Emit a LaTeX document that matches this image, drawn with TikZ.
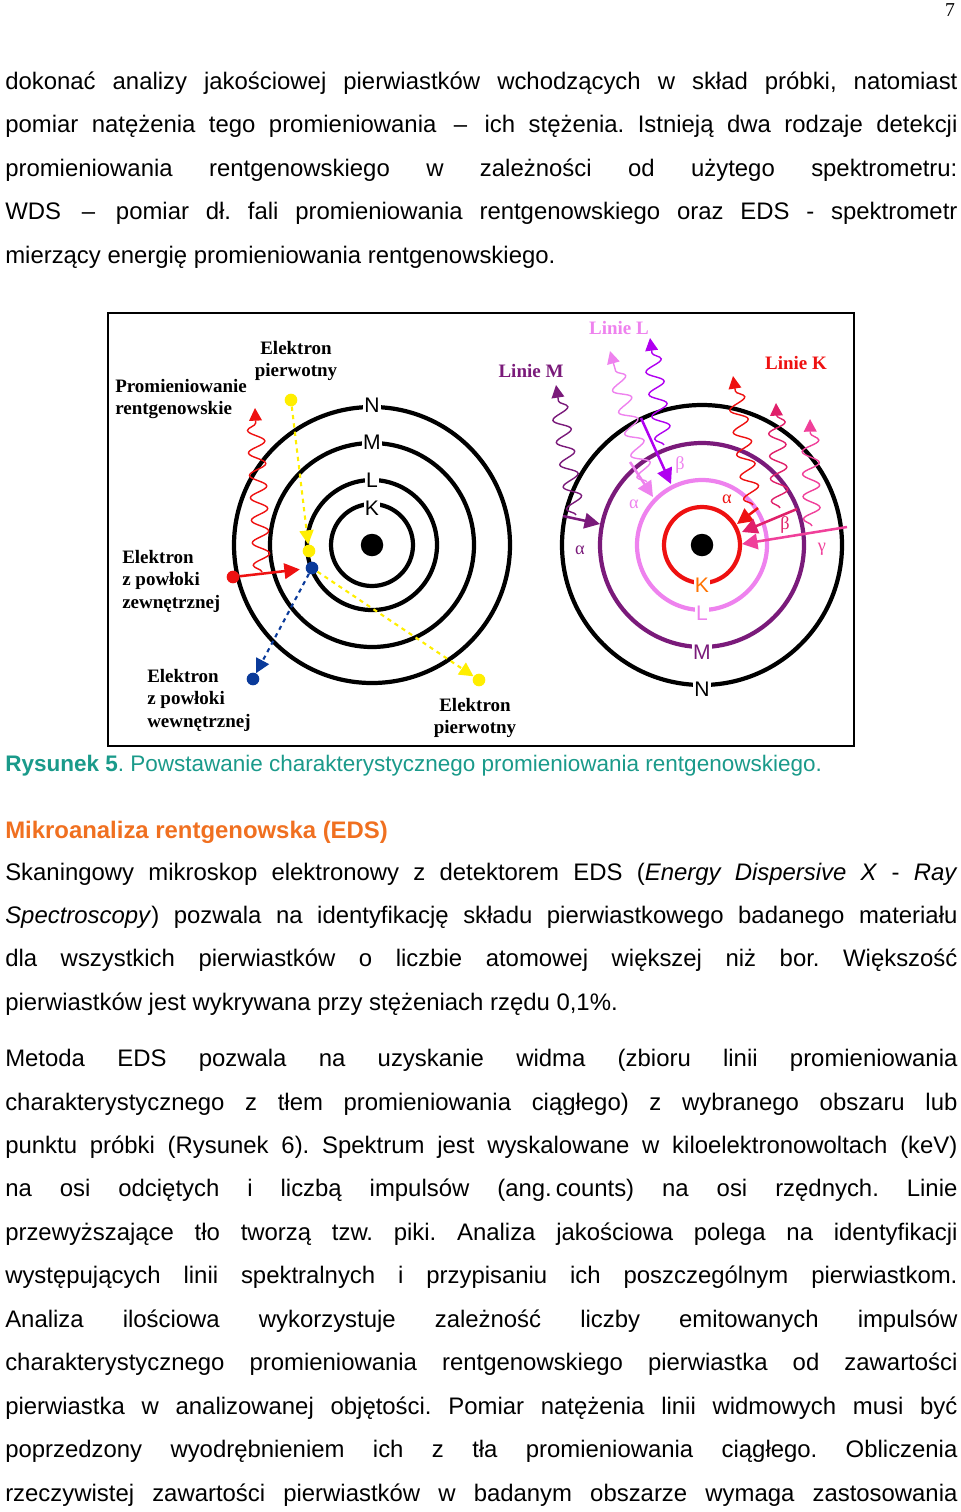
\documentclass[tikz,border=0pt]{standalone}
\usepackage{fontspec}
\setmainfont{Liberation Sans}
\newfontfamily\tnr{Liberation Serif}
\usetikzlibrary{arrows.meta,decorations.pathmorphing}
\definecolor{capteal}{HTML}{1A9A8A}
\definecolor{headorange}{HTML}{F07020}
\definecolor{mpurple}{HTML}{7A1A7A}
\definecolor{lpink}{HTML}{EE82EE}
\definecolor{lviolet}{HTML}{B000F0}
\definecolor{kred}{HTML}{EE1111}
\definecolor{kbeta}{HTML}{E0206A}
\definecolor{kgamma}{HTML}{F0409A}
\definecolor{ylw}{HTML}{FFEE00}
\definecolor{eblue}{HTML}{0A3A9A}
\newlength\linew
\setlength\linew{23.8cm}
\newcommand\jl[1]{\makebox[\linew][s]{#1}}
\frenchspacing
\tikzset{
  txt/.style={anchor=west,inner sep=0pt,font=\fontsize{17}{20}\selectfont},
  lbl/.style={font=\tnr\bfseries\fontsize{13.5}{16}\selectfont,align=left,inner sep=0pt},
  shell/.style={fill=white,inner sep=1pt,font=\fontsize{15}{15}\selectfont},
  greek/.style={font=\tnr\fontsize{13}{13}\selectfont},
  dot/.style={circle,inner sep=0pt,minimum size=9pt},
  wave/.style={decorate,decoration={snake,amplitude=6pt,segment length=16pt,post length=7pt},-{Triangle[length=9pt,width=9pt]}},
  hit/.style={line width=1.8pt,-{Triangle[length=11pt,width=11pt]}},
  ring/.style={line width=3pt}
}
\begin{document}
\begin{tikzpicture}[x=0.025cm,y=-0.025cm]
\useasboundingbox (0,0) rectangle (960,1512);

% Page number
\node[font=\tnr\fontsize{14}{14}\selectfont] (pg) at (950,10) {7};

% Text above the figure
\node[txt] (a1) at (5,83) {\jl{dokonać analizy jakościowej pierwiastków wchodzących w skład próbki, natomiast}};
\node[txt] (a2) at (5,126) {\jl{pomiar natężenia tego promieniowania \,–\, ich stężenia. Istnieją dwa rodzaje detekcji}};
\node[txt] (a3) at (5,170) {\jl{promieniowania rentgenowskiego w zależności od użytego spektrometru:}};
\node[txt] (a4) at (5,213) {\jl{WDS \,–\, pomiar dł. fali promieniowania rentgenowskiego oraz EDS - spektrometr}};
\node[txt] (a5) at (5,257) {mierzący energię promieniowania rentgenowskiego.};

% Frame
\draw[line width=1pt] (108,313) rectangle (854,746);

% Left atom
\coordinate (lc) at (372,545);
\foreach \r in {41,65,102,138}
  \draw[ring] (lc) circle (\r);
\node[dot,fill=black,minimum size=16pt] (lnuc) at (lc) {};
\node[shell] (lN) at (372,405) {N};
\node[shell] (lM) at (372,442) {M};
\node[shell] (lL) at (372,480) {L};
\node[shell] (lK) at (372,508) {K};

% Electrons
\node[dot,fill=ylw] (p1) at (291,400) {};
\node[dot,fill=ylw] (p2) at (309,551) {};
\node[dot,fill=ylw] (p3) at (479,680) {};
\node[dot,fill=eblue] (b1) at (312,568) {};
\node[dot,fill=eblue] (b2) at (253,679) {};
\node[dot,fill=kred] (r1) at (233,577) {};
\coordinate (w1) at (262,572);
\coordinate (w2) at (255,408);
\draw[ylw,line width=1.5pt,dashed,-{Triangle[length=10pt,width=10pt]}] (p1) -- (p2);
\draw[ylw,line width=1.5pt,dashed,-{Triangle[length=10pt,width=10pt]}] (b1) -- (p3);
\draw[eblue,line width=1.5pt,dashed,-{Triangle[length=10pt,width=10pt]}] (b1) -- (b2);
\draw[kred,hit,shorten >=4pt] (r1) -- (b1);
\draw[kred,wave,line width=1pt] (w1) -- (w2);

% Left labels
\node[lbl,align=center] (ep1) at (296,361) {Elektron\\pierwotny};
\node[lbl,anchor=west] (pr) at (115,399) {Promieniowanie\\rentgenowskie};
\node[lbl,anchor=west] (ez) at (122,581) {Elektron\\z powłoki\\zewnętrznej};
\node[lbl,anchor=west] (ew) at (147,700) {Elektron\\z powłoki\\wewnętrznej};
\node[lbl,align=center] (ep2) at (475,718) {Elektron\\pierwotny};

% Right atom
\coordinate (rc) at (702,545);
\draw[ring] (rc) circle (140);
\draw[ring,mpurple] (rc) circle (102);
\draw[ring,lpink] (rc) circle (65);
\draw[ring,kred] (rc) circle (38);
\node[dot,fill=black,minimum size=16pt] (rnuc) at (rc) {};
\node[shell,text=orange!90!red] (rK) at (702,585) {K};
\node[shell,text=lpink] (rL) at (702,613) {L};
\node[shell,text=mpurple] (rM) at (702,652) {M};
\node[shell] (rN) at (702,689) {N};

% Line labels
\node[lbl,text=mpurple] (liM) at (531,371) {Linie M};
\node[lbl,text=lpink] (liL) at (619,328) {Linie L};
\node[lbl,text=kred] (liK) at (796,363) {Linie K};

% M line
\coordinate (m0) at (576,515);
\coordinate (m1) at (556,385);
\coordinate (m2) at (563,516);
\coordinate (m3) at (600,524);
\draw[mpurple,wave,line width=1pt] (m0) -- (m1);
\draw[mpurple,hit] (m2) -- (m3);
\node[greek,text=mpurple] (ma) at (580,550) {α};

% L lines
\coordinate (la0) at (647,482);
\coordinate (la1) at (610,351);
\coordinate (la2) at (630,462);
\coordinate (la3) at (653,497);
\draw[lpink,wave,line width=1pt] (la0) -- (la1);
\draw[lpink,hit] (la2) -- (la3);
\node[greek,text=lpink] (lal) at (634,504) {α};
\coordinate (lb0) at (664,445);
\coordinate (lb1) at (650,338);
\coordinate (lb2) at (641,418);
\coordinate (lb3) at (671,484);
\draw[lviolet,wave,line width=1pt] (lb0) -- (lb1);
\draw[lviolet,hit] (lb2) -- (lb3);
\node[greek,text=lpink] (lbe) at (680,465) {β};

% K lines
\coordinate (ka0) at (753,505);
\coordinate (ka1) at (733,376);
\coordinate (ka2) at (758,508);
\coordinate (ka3) at (737,524);
\draw[kred,wave,line width=1pt] (ka0) -- (ka1);
\draw[kred,hit] (ka2) -- (ka3);
\node[greek,text=kred] (kal) at (727,499) {α};
\coordinate (kb0) at (780,508);
\coordinate (kb1) at (776,403);
\coordinate (kb2) at (797,509);
\coordinate (kb3) at (742,532);
\draw[kbeta,wave,line width=1pt] (kb0) -- (kb1);
\draw[kbeta,hit] (kb2) -- (kb3);
\node[greek,text=kbeta] (kbe) at (785,525) {β};
\coordinate (kg0) at (812,526);
\coordinate (kg1) at (810,419);
\coordinate (kg2) at (847,527);
\coordinate (kg3) at (742,544);
\draw[kgamma,wave,line width=1pt] (kg0) -- (kg1);
\draw[kgamma,hit] (kg2) -- (kg3);
\node[greek,text=kgamma] (kga) at (822,549) {γ};

% Caption and heading
\node[txt,text=capteal,font=\fontsize{16}{20}\selectfont] (cap) at (5,766) {\textbf{Rysunek 5}. Powstawanie charakterystycznego promieniowania rentgenowskiego.};
\node[txt,text=headorange,font=\bfseries\fontsize{17}{20}\selectfont] (hd) at (5,832) {Mikroanaliza rentgenowska (EDS)};

% Text below the figure
\node[txt] (b01) at (5,874) {\jl{Skaningowy mikroskop elektronowy z detektorem EDS (\textit{Energy Dispersive X} - \textit{Ray}}};
\node[txt] (b02) at (5,917) {\jl{\textit{Spectroscopy}) pozwala na identyfikację składu pierwiastkowego badanego materiału}};
\node[txt] (b03) at (5,960) {\jl{dla wszystkich pierwiastków o liczbie atomowej większej niż bor. Większość}};
\node[txt] (b04) at (5,1004) {pierwiastków jest wykrywana przy stężeniach rzędu 0,1\%.};
\node[txt] (c01) at (5,1060) {\jl{Metoda EDS pozwala na uzyskanie widma (zbioru linii promieniowania}};
\node[txt] (c02) at (5,1104) {\jl{charakterystycznego z tłem promieniowania ciągłego) z wybranego obszaru lub}};
\node[txt] (c03) at (5,1147) {\jl{punktu próbki (Rysunek 6). Spektrum jest wyskalowane w kiloelektronowoltach (keV)}};
\node[txt] (c04) at (5,1190) {\jl{na osi odciętych i liczbą impulsów (ang.\,counts) na osi rzędnych. Linie}};
\node[txt] (c05) at (5,1234) {\jl{przewyższające tło tworzą tzw. piki. Analiza jakościowa polega na identyfikacji}};
\node[txt] (c06) at (5,1277) {\jl{występujących linii spektralnych i przypisaniu ich poszczególnym pierwiastkom.}};
\node[txt] (c07) at (5,1321) {\jl{Analiza ilościowa wykorzystuje zależność liczby emitowanych impulsów}};
\node[txt] (c08) at (5,1364) {\jl{charakterystycznego promieniowania rentgenowskiego pierwiastka od zawartości}};
\node[txt] (c09) at (5,1408) {\jl{pierwiastka w analizowanej objętości. Pomiar natężenia linii widmowych musi być}};
\node[txt] (c10) at (5,1451) {\jl{poprzedzony wyodrębnieniem ich z tła promieniowania ciągłego. Obliczenia}};
\node[txt] (c11) at (5,1495) {\jl{rzeczywistej zawartości pierwiastków w badanym obszarze wymaga zastosowania}};
\end{tikzpicture}
\end{document}
